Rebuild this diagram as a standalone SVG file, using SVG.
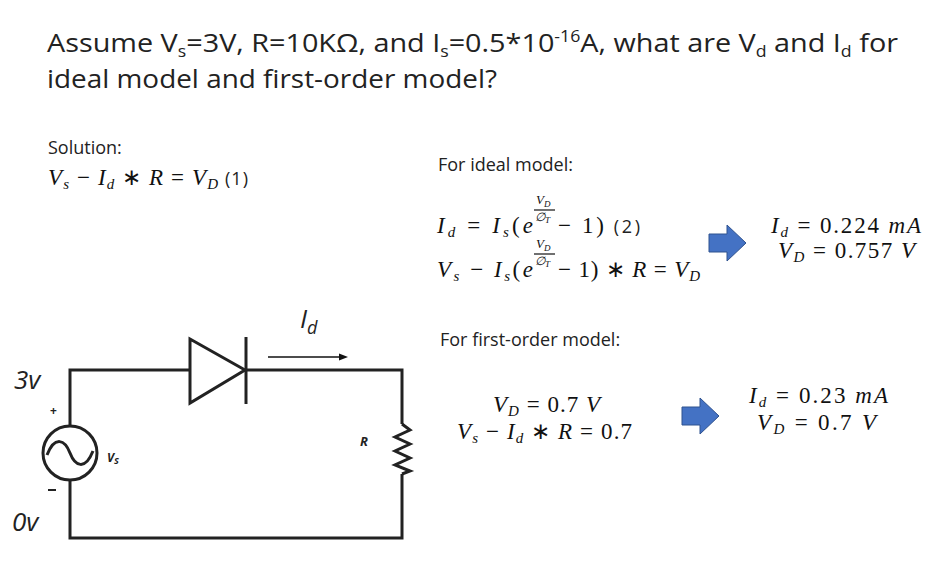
<svg xmlns="http://www.w3.org/2000/svg" width="932" height="567" viewBox="0 0 932 567">
<style>
.t{font-family:"Open Sans","Liberation Sans",sans-serif;fill:#222}
.m{font-family:"Liberation Serif",serif;font-style:italic;fill:#111;font-size:23px}
.n{font-family:"Liberation Serif",serif;font-style:normal;fill:#111}
.s{font-size:15px}
.w{stroke:#222;stroke-width:3;fill:none}
</style>
<rect width="932" height="567" fill="#fff"/>
<g id="title">
<text class="t" x="47" y="52" font-size="26" textLength="851" lengthAdjust="spacingAndGlyphs">Assume V<tspan font-size="16" dy="5">s</tspan><tspan dy="-5">=3V, R=10KΩ, and I</tspan><tspan font-size="16" dy="5">s</tspan><tspan dy="-5">=0.5*10</tspan><tspan font-size="16" dy="-10">-16</tspan><tspan dy="10">A, what are V</tspan><tspan font-size="16" dy="5">d</tspan><tspan dy="-5"> and I</tspan><tspan font-size="16" dy="5">d</tspan><tspan dy="-5"> for</tspan></text>
<text class="t" x="47" y="88" font-size="26" textLength="450" lengthAdjust="spacingAndGlyphs">ideal model and first-order model?</text>
</g>
<g id="solution">
<text class="t" x="48" y="154" font-size="18">Solution:</text>
<text class="m" x="48" y="185" textLength="200">V<tspan class="s" dy="4">s</tspan><tspan class="n" dy="-4"> − </tspan>I<tspan class="s" dy="4">d</tspan><tspan class="n" dy="-4"> ∗ </tspan>R<tspan class="n"> = </tspan>V<tspan class="s" dy="4">D</tspan><tspan class="t" font-style="normal" dy="-4" font-size="18"> (1)</tspan></text>
</g>
<g id="ideal">
<text class="t" x="438" y="171" font-size="18">For ideal model:</text>
<text class="m" x="437" y="233" textLength="96">I<tspan class="s" dy="4">d</tspan><tspan class="n" dy="-4"> = </tspan>I<tspan class="s" dy="4">s</tspan><tspan class="n" dy="-4">(</tspan>e</text>
<text class="n" x="558" y="233" font-size="23" textLength="82">− 1)<tspan class="t" font-size="18"> (2)</tspan></text>
<text class="m" x="536" y="204" style="font-size:13px">V<tspan font-size="9" dy="3">D</tspan></text>
<line x1="534" y1="210" x2="555" y2="210" stroke="#111" stroke-width="1.2"/>
<text class="m" x="535" y="221" style="font-size:12px">∅<tspan font-size="9" dy="2">T</tspan></text>
<text class="m" x="437" y="277" textLength="96">V<tspan class="s" dy="4">s</tspan><tspan class="n" dy="-4"> − </tspan>I<tspan class="s" dy="4">s</tspan><tspan class="n" dy="-4">(</tspan>e</text>
<text class="m" x="558" y="277" textLength="142"><tspan class="n">− 1) ∗ </tspan>R<tspan class="n"> = </tspan>V<tspan class="s" dy="4">D</tspan></text>
<text class="m" x="536" y="248" style="font-size:13px">V<tspan font-size="9" dy="3">D</tspan></text>
<line x1="534" y1="254" x2="555" y2="254" stroke="#111" stroke-width="1.2"/>
<text class="m" x="535" y="265" style="font-size:12px">∅<tspan font-size="9" dy="2">T</tspan></text>
<polygon points="709,234 727,234 727,225 746,243 727,261 727,252 709,252" fill="#4472c4" stroke="#2f528f" stroke-width="1"/>
<text class="m" x="771" y="233" textLength="150">I<tspan class="s" dy="4">d</tspan><tspan class="n" dy="-4"> = 0.224 </tspan>mA</text>
<text class="m" x="778" y="258" textLength="137">V<tspan class="s" dy="4">D</tspan><tspan class="n" dy="-4"> = 0.757 </tspan>V</text>
</g>
<g id="first">
<text class="t" x="440" y="346" font-size="18">For first-order model:</text>
<text class="m" x="493" y="412" textLength="107">V<tspan class="s" dy="4">D</tspan><tspan class="n" dy="-4"> = 0.7 </tspan>V</text>
<text class="m" x="457" y="439" textLength="175">V<tspan class="s" dy="4">s</tspan><tspan class="n" dy="-4"> − </tspan>I<tspan class="s" dy="4">d</tspan><tspan class="n" dy="-4"> ∗ </tspan>R<tspan class="n"> = 0.7</tspan></text>
<polygon points="682,407 700,407 700,398 719,416 700,434 700,425 682,425" fill="#4472c4" stroke="#2f528f" stroke-width="1"/>
<text class="m" x="749" y="403" textLength="139">I<tspan class="s" dy="4">d</tspan><tspan class="n" dy="-4"> = 0.23 </tspan>mA</text>
<text class="m" x="757" y="430" textLength="119">V<tspan class="s" dy="4">D</tspan><tspan class="n" dy="-4"> = 0.7 </tspan>V</text>
</g>
<g id="circuit">
<polyline class="w" points="70,426 70,370 190,370"/>
<polyline class="w" points="245,370 402,370 402,424"/>
<polyline class="w" points="402,474 402,538 70,538 70,480"/>
<polygon class="w" points="190,339 190,403 245,370"/>
<line class="w" x1="246" y1="337" x2="246" y2="404"/>
<circle class="w" cx="70" cy="453" r="27"/>
<path class="w" d="M47,455 C55,435 65,440 70,453 C75,466 85,471 93,451" stroke-width="2.5"/>
<polyline class="w" points="402,424 410,430 395,437 410,444 395,451 410,458 395,465 410,471 402,474" stroke-width="2.5"/>
<text class="t" x="107" y="462" font-size="12" font-weight="bold" font-style="italic">V<tspan font-size="9" dy="2">S</tspan></text>
<text class="t" x="360" y="446" font-size="13" font-weight="bold" font-style="italic">R</text>
<text class="t" x="50" y="415" font-size="12" font-weight="bold">+</text>
<line x1="48" y1="490" x2="56" y2="490" stroke="#222" stroke-width="2"/>
<text class="t" x="14" y="389" font-size="26" font-style="italic">3v</text>
<text class="t" x="12" y="531" font-size="26" font-style="italic">0v</text>
<line x1="268" y1="357" x2="342" y2="357" stroke="#111" stroke-width="1.3"/>
<polygon points="348,357 339,353.5 339,360.5" fill="#111"/>
<text class="t" x="300" y="328" font-size="26" font-style="italic">I<tspan font-size="18" dy="6">d</tspan></text>
</g>
</svg>
